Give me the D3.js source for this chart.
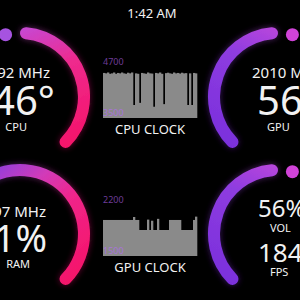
<!DOCTYPE html>
<html>
<head>
<meta charset="utf-8">
<script src="https://cdn.jsdelivr.net/npm/d3@7"></script>
<style>
  html, body { margin: 0; padding: 0; background: #000; overflow: hidden; }
  svg { display: block; }
  text { font-family: "Noto Sans", sans-serif; fill: #f2f2f2; }
  .axislbl { font-size: 9px; }
</style>
</head>
<body>
<script>
var width = 300;
var height = 300;

var time_label = "1:42 AM";

// cpu clock history (MHz)
var cpu_clock = [4540, 4530, 4550, 4520, 4530, 4550, 4520, 4540, 4530, 4550, 4530, 4520,
    4545, 4530, 4550, 3800, 4530, 4520, 3850, 4540, 4530, 4520, 4550, 4530, 4525, 3760,
    4540, 4530, 4550, 4520, 3820, 4535, 4545, 4530, 4520, 4550, 4530, 4540, 4525, 4545,
    4530, 4535, 3800, 4530, 3800, 4540, 4530];
var cpu_range = [3500, 4700];

// gpu clock history (MHz)
var gpu_clock = [1985, 1985, 1985, 1985, 1985, 1985, 1985, 1985, 1985, 1985, 1985, 1985,
    1985, 1985, 1985, 2025, 1985, 1985, 1850, 1850, 1850, 1850, 1990, 1850, 1975, 1850,
    1850, 2000, 1850, 1850, 1850, 1850, 1850, 1985, 1985, 1985, 1985, 1985, 1985, 1850,
    1850, 1850, 1850, 1850, 1850, 1985, 2030];
var gpu_range = [1500, 2200];

// gauge texts
var cpu_lines = ["4592 MHz", "46\u00b0", "CPU"];
var gpu_lines = ["2010 MHz", "56\u00b0", "GPU"];
var ram_lines = ["1597 MHz", "51%", "RAM"];
var sys_lines = ["56%", "VOL", "184", "FPS"];

var svg = d3.select("body").append("svg")
    .attr("width", width)
    .attr("height", height);

svg.append("rect").attr("width", width).attr("height", height).attr("fill", "#000");

var defs = svg.append("defs");

var glow = defs.append("filter").attr("id", "glow")
    .attr("x", "-20%").attr("y", "-20%").attr("width", "140%").attr("height", "140%");
glow.append("feGaussianBlur").attr("in", "SourceGraphic").attr("stdDeviation", 3).attr("result", "b");
glow.append("feComponentTransfer").attr("in", "b").attr("result", "bf")
    .append("feFuncA").attr("type", "linear").attr("slope", 0.45);
var merge = glow.append("feMerge");
merge.append("feMergeNode").attr("in", "bf");
merge.append("feMergeNode").attr("in", "SourceGraphic");

// gradient coords are relative to the gauge centre
function addGradient(id, x1, y1, x2, y2, stops) {
    var g = defs.append("linearGradient").attr("id", id)
        .attr("gradientUnits", "userSpaceOnUse")
        .attr("x1", x1).attr("y1", y1).attr("x2", x2).attr("y2", y2);
    stops.forEach(function(s) {
        g.append("stop").attr("offset", s[0]).attr("stop-color", s[1]);
    });
}

addGradient("g_tl", -10, -67, 40, 53, [[0, "#c44ad8"], [0.4, "#ee2a8e"], [1, "#f5146a"]]);
addGradient("g_bl", -50, -54, 40, 56, [[0, "#8a3ee0"], [0.3, "#d23ab8"], [0.55, "#f0258a"], [1, "#f5146a"]]);
addGradient("g_tr", 7, -64, -48, 53, [[0, "#b846dc"], [0.3, "#8e3ce0"], [1, "#7a2fdc"]]);
addGradient("g_br", 7, -64, -48, 53, [[0, "#b846dc"], [0.3, "#8e3ce0"], [1, "#7a2fdc"]]);

var deg = Math.PI / 180;
var arc = d3.arc().innerRadius(58).outerRadius(70).cornerRadius(6);

var gauges = [
    {cx: 20,  cy: 97,  a0: 0,    a1: 140, fill: "url(#g_tl)", dot: -13, dotColor: "#a653e0"},
    {cx: 278, cy: 97,  a0: -140, a1: 0,   fill: "url(#g_tr)", dot: 13,  dotColor: "#d043d8"},
    {cx: 20,  cy: 234, a0: -60,  a1: 140, fill: "url(#g_bl)", dot: null},
    {cx: 278, cy: 234, a0: -140, a1: 0,   fill: "url(#g_br)", dot: 13,  dotColor: "#d043d8"}
];

gauges.forEach(function(g) {
    var gg = svg.append("g")
        .attr("transform", "translate(" + g.cx + "," + g.cy + ")");
    gg.append("path")
        .attr("d", arc({startAngle: g.a0 * deg, endAngle: g.a1 * deg}))
        .attr("fill", g.fill)
        .attr("filter", "url(#glow)");
    if (g.dot !== null) {
        gg.append("circle")
            .attr("cx", 64 * Math.sin(g.dot * deg))
            .attr("cy", -64 * Math.cos(g.dot * deg))
            .attr("r", 6.5)
            .attr("fill", g.dotColor);
    }
});

function gaugeText(x, y, size, anchor, txt) {
    svg.append("text")
        .attr("x", x).attr("y", y)
        .attr("font-size", size)
        .attr("text-anchor", anchor)
        .text(txt);
}

gaugeText(50, 78, 15, "end", cpu_lines[0]);
gaugeText(55, 115, 40, "end", cpu_lines[1]);
gaugeText(27, 131, 11, "end", cpu_lines[2]);

gaugeText(252, 78, 15, "start", gpu_lines[0]);
gaugeText(257, 115, 40, "start", gpu_lines[1]);
gaugeText(267, 131, 11, "start", gpu_lines[2]);

gaugeText(46, 217, 15, "end", ram_lines[0]);
gaugeText(47, 252, 38, "end", ram_lines[1]);
gaugeText(30, 268, 11, "end", ram_lines[2]);

gaugeText(258, 217, 24, "start", sys_lines[0]);
gaugeText(270, 232, 11, "start", sys_lines[1]);
gaugeText(258, 262, 26, "start", sys_lines[2]);
gaugeText(270, 276, 11, "start", sys_lines[3]);

// clock at the top
svg.append("text")
    .attr("x", 152).attr("y", 18)
    .attr("font-size", 13)
    .attr("text-anchor", "middle")
    .text(time_label);

// bar histories
function renderHistory(data, range, top, bottom, title, titleY) {
    var x = d3.scaleBand()
        .domain(d3.range(data.length))
        .range([103, 197])
        .padding(0);
    var y = d3.scaleLinear()
        .domain(range)
        .range([bottom, top]);

    var g = svg.append("g");
    g.selectAll(".bar").data(data).enter().append("rect")
        .attr("class", "bar")
        .attr("x", function(d, i) { return x(i); })
        .attr("width", x.bandwidth() + 0.3)
        .attr("y", function(d) { return y(d); })
        .attr("height", function(d) { return bottom - y(d); })
        .attr("fill", "#8a8a8a");

    g.append("text")
        .attr("class", "axislbl")
        .attr("x", 103).attr("y", top - 1)
        .style("fill", "#6e3c98")
        .text(range[1]);
    g.append("text")
        .attr("class", "axislbl")
        .attr("x", 103).attr("y", bottom - 2)
        .style("fill", "#a874d8")
        .text(range[0]);

    svg.append("text")
        .attr("x", 150).attr("y", titleY)
        .attr("font-size", 13)
        .attr("text-anchor", "middle")
        .text(title);
}

renderHistory(cpu_clock, cpu_range, 66, 118, "CPU CLOCK", 134);
renderHistory(gpu_clock, gpu_range, 204, 256, "GPU CLOCK", 272);
</script>
</body>
</html>
